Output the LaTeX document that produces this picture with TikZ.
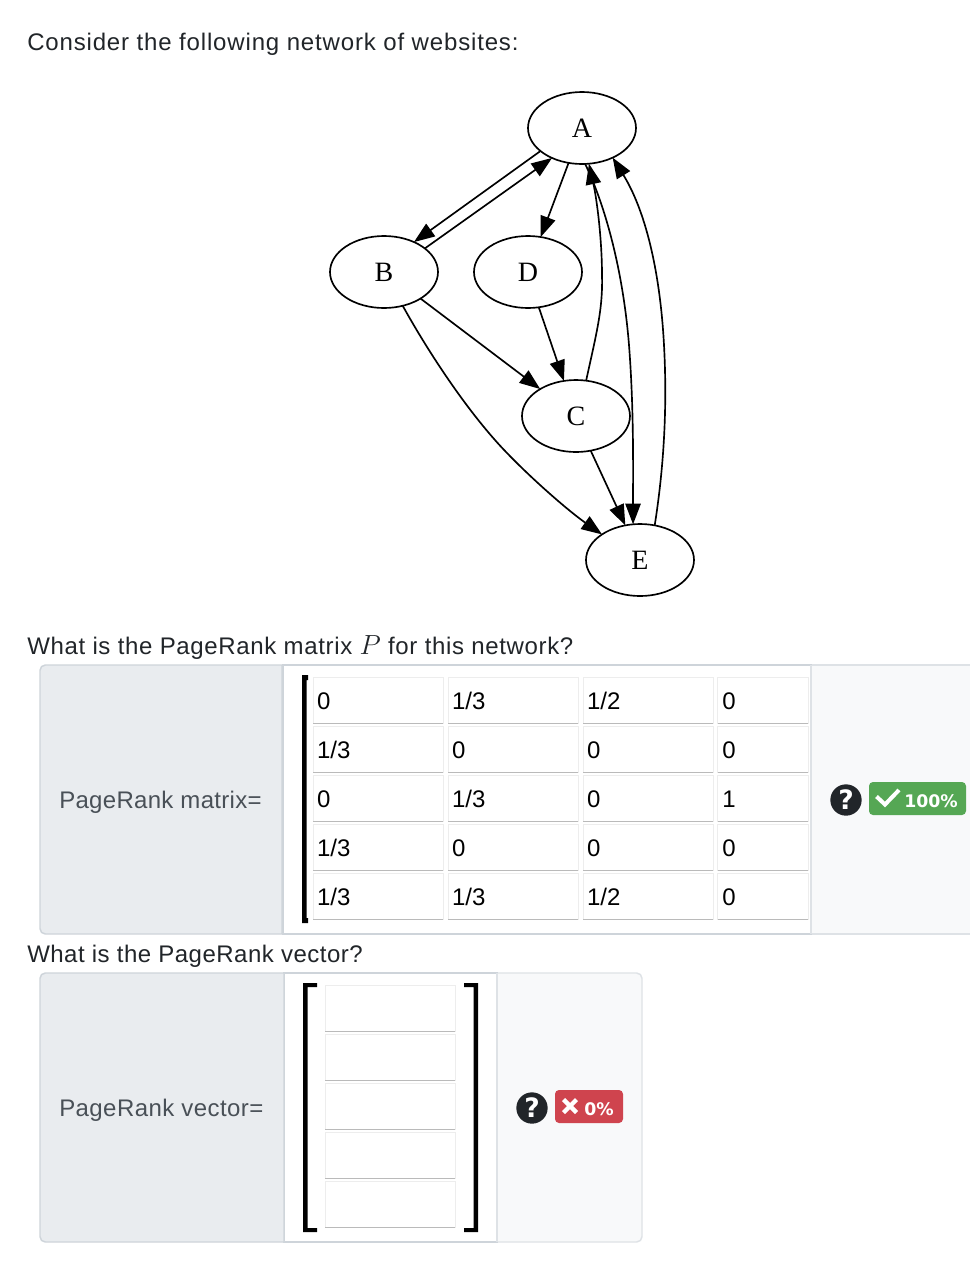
\documentclass[tikz,border=0pt]{standalone}
\usepackage{fontspec}
\setmainfont{Liberation Sans}
\newfontfamily\gfont{Liberation Serif}
\newfontfamily\bfont[BoldFont={DejaVu Sans Bold}]{DejaVu Sans}
\usetikzlibrary{arrows.meta,shapes.geometric}
\definecolor{lblfill}{HTML}{E9ECEF}
\definecolor{lbldraw}{HTML}{CED4DA}
\definecolor{sidefill}{HTML}{F8F9FA}
\definecolor{sidedraw}{HTML}{DEE2E6}
\definecolor{lbltext}{HTML}{495057}
\definecolor{ink}{HTML}{212529}
\definecolor{okgreen}{HTML}{55A754}
\definecolor{badred}{HTML}{CF444E}
\newcommand{\lsp}[1]{\addfontfeature{LetterSpace=#1}}
\tikzset{
  gnode/.style={ellipse,draw=black,line width=1.25pt,minimum width=81pt,minimum height=54pt,inner sep=0pt,outer sep=0pt,font=\gfont\fontsize{21}{21}\selectfont},
  edge/.style={draw=black,line width=1.25pt,-{Triangle[length=15.5pt,width=11.5pt]}},
  body/.style={font=\fontsize{18}{22}\selectfont,text=ink,inner sep=0pt,anchor=base west},
  lbl/.style={font=\fontsize{18}{22}\selectfont,text=lbltext,inner sep=0pt,anchor=base west},
  lblpanel/.style={fill=lblfill,draw=lbldraw,line width=1.1pt},
  sidepanel/.style={fill=sidefill,draw=sidedraw,line width=1.1pt},
  midpanel/.style={fill=white,draw=lbldraw,line width=1.1pt},
  cell/.style={draw=black!7,fill=white,line width=.75pt,minimum width=97.5pt,minimum height=34.5pt,inner xsep=3pt,inner ysep=0pt,outer sep=0pt,align=left,text width=91.5pt,text height=13pt,text depth=0pt,font=\fontsize{18}{22}\selectfont,text=black},
  cellbar/.style={draw=black!27,line width=1.3pt},
  brace/.style={fill=black,draw=none},
  help/.style={circle,fill=ink,minimum size=23.5pt,inner sep=0pt,text=white,font=\bfont\bfseries\fontsize{20}{20}\selectfont},
  badge/.style={rounded corners=3pt,draw=none},
  badgetext/.style={text=white,inner sep=0pt,anchor=base west,font=\bfont\bfseries\fontsize{13}{13}\selectfont},
  tick/.style={draw=white,line width=3pt,line cap=butt},
}
\begin{document}
\begin{tikzpicture}[x=0.75pt,y=-0.75pt]
\fill[white] (0,0) rectangle (970,1272);
\clip (0,0) rectangle (970,1272);
\useasboundingbox (0,0) rectangle (970,1272);

\node[body] (t1) at (27,50) {\lsp{3.5}Consider the following network of websites:};
\node[body] (t2) at (27,654) {\lsp{2.7}What is the PageRank matrix \fontsize{21}{22}\selectfont$P$\fontsize{18}{22}\selectfont{} for this network?};
\node[body] (t3) at (27,962) {\lsp{2.05}What is the PageRank vector?};

% graph
\node[gnode] (A) at (582,128) {A};
\node[gnode] (B) at (384,272) {B};
\node[gnode] (D) at (528,272) {D};
\node[gnode] (C) at (576,416) {C};
\node[gnode] (E) at (640,560) {E};
\draw[edge] (A.209) -- (B.45);
\draw[edge] (B.30) -- (A.225);
\draw[edge] (A.249) -- (D.70);
\draw[edge] (D.287) -- (C.109);
\draw[edge] (B.324) -- (C.143);
\draw[edge] (C.293) -- (E.113);
\draw[edge] (B.299) .. controls (430,355) and (470,415) .. (507,453) .. controls (535,482) and (570,512) .. (E.146);
\draw[edge] (C.74) .. controls (596,335) and (603,310) .. (602,275) .. controls (602,240) and (597,200) .. (A.281);
\draw[edge] (A.275) .. controls (605,205) and (623,270) .. (629,345) .. controls (634,410) and (633,470) .. (E.101);
\draw[edge] (E.67) .. controls (665,460) and (667,400) .. (664,345) .. controls (660,270) and (645,210) .. (A.316);

% matrix panel
\path[sidepanel] (811,665) -- (980,665) -- (980,934) -- (811,934) -- cycle;
\path[midpanel] (283,665) -- (811,665) -- (811,934) -- (283,934) -- cycle;
\draw[draw=sidedraw,line width=1.1pt] (811,665) -- (811,934);
\path[lblpanel] (282,665) {[rounded corners=4pt] -- (40,665) -- (40,934)} -- (282,934) -- cycle;
\node[lbl] (ml) at (59,808) {\lsp{1.3}PageRank matrix=};
\path[brace] (302,675) -- (308,675) -- (308,680) -- (306.5,680) -- (306.5,918) -- (308,918) -- (308,923) -- (302,923) -- cycle;

\foreach \r/\a/\b/\c/\d [count=\i from 0] in {0/0/1\slash3/1\slash2/0,1/1\slash3/0/0/0,2/0/1\slash3/0/1,3/1\slash3/0/0/0,4/1\slash3/1\slash3/1\slash2/0}{
  \foreach \v/\cx [count=\j from 0] in {\a/378,\b/513,\c/648,\d/763}{
    \ifnum\j=3
      \node[cell,minimum width=68pt,text width=61pt] (m\i\j) at (\cx,700.5+49*\i) {\v};
    \else
      \node[cell] (m\i\j) at (\cx,700.5+49*\i) {\v};
    \fi
    \draw[cellbar] (m\i\j.south west) -- (m\i\j.south east);
  }
}

\node[help] (hm) at (846,800) {?};
\path[badge,fill=okgreen] (869,782) rectangle (966,815);
\draw[tick] (876.5,796.5) -- (885,804.5) -- (899,790);
\node[badgetext] (bm) at (904,807) {100\%};

% vector panel
\path[sidepanel,rounded corners=4pt] (480,973) -- (642,973) -- (642,1242) -- (480,1242);
\path[midpanel] (284,973) -- (497,973) -- (497,1242) -- (284,1242) -- cycle;
\draw[draw=sidedraw,line width=1.1pt] (497,973) -- (497,1242);
\path[lblpanel] (284,973) {[rounded corners=4pt] -- (40,973) -- (40,1242)} -- (284,1242) -- cycle;
\node[lbl] (vl) at (59,1116) {\lsp{1.8}PageRank vector=};
\path[brace] (303,983) -- (317,983) -- (317,987) -- (307.5,987) -- (307.5,1228) -- (317,1228) -- (317,1232) -- (303,1232) -- cycle;
\path[brace] (478,983) -- (464,983) -- (464,987) -- (473.5,987) -- (473.5,1228) -- (464,1228) -- (464,1232) -- (478,1232) -- cycle;
\foreach \i in {0,...,4}{
  \node[cell] (v\i) at (390,1008.5+49*\i) {};
  \draw[cellbar] (v\i.south west) -- (v\i.south east);
}
\node[help] (hv) at (532,1108) {?};
\path[badge,fill=badred] (555,1090) rectangle (623,1123);
\draw[tick,line width=3.2pt] (563.5,1099.5) -- (576.5,1112.5);
\draw[tick,line width=3.2pt] (576.5,1099.5) -- (563.5,1112.5);
\node[badgetext] (bv) at (584,1115) {0\%};
\end{tikzpicture}
\end{document}
